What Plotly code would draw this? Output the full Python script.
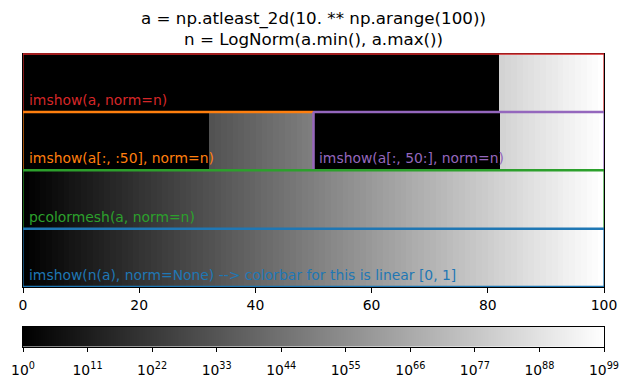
import plotly.graph_objects as go

# ---- data ----
exponents = list(range(100))          # a = 10. ** np.arange(100)
log_min, log_max = 0, 99              # LogNorm(a.min(), a.max()) in decades
# columns rendered black due to resampling artifacts
red_black_end = 82
orange_black_end = 32
purple_black_end = 82
cbar_ticks = [0, 11, 22, 33, 44, 55, 66, 77, 88, 99]
x_ticks = [0, 20, 40, 60, 80, 100]
title_lines = ["a = np.atleast_2d(10. ** np.arange(100))", "n = LogNorm(a.min(), a.max())"]

rows = [
    # (label, color, y_bottom, col_start, col_end, black_end, text_x)
    ("imshow(a, norm=n)", "#d62728", 3, 0, 100, red_black_end, 1),
    ("imshow(a[:, :50], norm=n)", "#ff7f0e", 2, 0, 50, orange_black_end, 1),
    ("imshow(a[:, 50:], norm=n)", "#9467bd", 2, 50, 100, purple_black_end, 51),
    ("pcolormesh(a, norm=n)", "#2ca02c", 1, 0, 100, 0, 1),
    ("imshow(n(a), norm=None) --> colorbar for this is linear [0, 1]", "#1f77b4", 0, 0, 100, 0, 1),
]

W, H = 629, 385
FONT = "DejaVu Sans"
gray = [[0, "black"], [1, "white"]]

fig = go.Figure()
shapes = []
annotations = []

for label, color, yb, c0, c1, black_end, tx in rows:
    cols = exponents[c0:c1]
    z = [[(e if e >= black_end else log_min) for e in cols]]
    fig.add_trace(go.Heatmap(
        x=[e + 0.5 for e in cols], y=[yb + 0.5], z=z,
        colorscale=gray, zmin=log_min, zmax=log_max, showscale=False,
        xaxis="x", yaxis="y", hoverinfo="skip"))
    # frame
    shapes.append(dict(type="rect", xref="x", yref="y", x0=c0, x1=c1, y0=yb, y1=yb + 1,
                       line=dict(color=color, width=1.2), layer="above"))
    shapes.append(dict(type="line", xref="x", yref="y", x0=c0, x1=c1, y0=yb + 1, y1=yb + 1,
                       line=dict(color=color, width=2.5), layer="above"))
    if c0 == 50:
        shapes.append(dict(type="line", xref="x", yref="y", x0=c0, x1=c0, y0=yb, y1=yb + 1,
                           line=dict(color=color, width=2.5), layer="above"))
    if yb == 0:
        shapes.append(dict(type="line", xref="x", yref="y", x0=c0, x1=c1, y0=0, y1=0,
                           line=dict(color=color, width=2.5), layer="above"))
    annotations.append(dict(text=label, x=tx, y=yb + 0.035, xref="x", yref="y",
                            xanchor="left", yanchor="bottom", showarrow=False, xshift=-2,
                            font=dict(family=FONT, size=13.9, color=color)))

# colorbar as its own axes
fig.add_trace(go.Heatmap(
    x=exponents, y=[0], z=[exponents], colorscale=gray, zmin=log_min, zmax=log_max,
    zsmooth="best", showscale=False, xaxis="x2", yaxis="y2", hoverinfo="skip"))

for i, (line, yc) in enumerate(zip(title_lines, [18, 39])):
    annotations.append(dict(text=line, x=313.5 / W, y=1 - yc / H, xref="paper", yref="paper",
                            xanchor="center", yanchor="middle", showarrow=False,
                            font=dict(family=FONT, size=16.7, color="black")))

x0p, x1p = 23 / W, 604 / W
common = dict(showgrid=False, zeroline=False, automargin=False, showline=True, mirror=True,
              linecolor="black", linewidth=1)
fig.update_layout(
    width=W, height=H, margin=dict(l=0, r=0, t=0, b=0, pad=0, autoexpand=False),
    paper_bgcolor="white", plot_bgcolor="white", showlegend=False,
    font=dict(family=FONT, size=13.9, color="black"),
    xaxis=dict(domain=[x0p, x1p], range=[0, 100], tickvals=x_ticks,
               ticktext=[str(v) for v in x_ticks], ticks="outside", ticklen=4.9,
               tickcolor="black", anchor="y", **common),
    yaxis=dict(domain=[1 - 287 / H, 1 - 53.5 / H], range=[0, 4], showticklabels=False,
               ticks="", anchor="x", **common),
    xaxis2=dict(domain=[x0p, x1p], range=[log_min, log_max], tickvals=cbar_ticks,
                ticktext=["10<sup>%d</sup>" % t for t in cbar_ticks], ticks="outside",
                ticklen=4.9, tickcolor="black", anchor="y2", ticklabelstandoff=6, **common),
    yaxis2=dict(domain=[1 - 346.5 / H, 1 - 327 / H], range=[-0.5, 0.5], showticklabels=False,
                ticks="", anchor="x2", **common),
    shapes=shapes, annotations=annotations,
)

fig.write_html("out.html", config={"displayModeBar": False},
               post_script="document.body.style.margin='0';document.body.style.overflow='hidden';")
